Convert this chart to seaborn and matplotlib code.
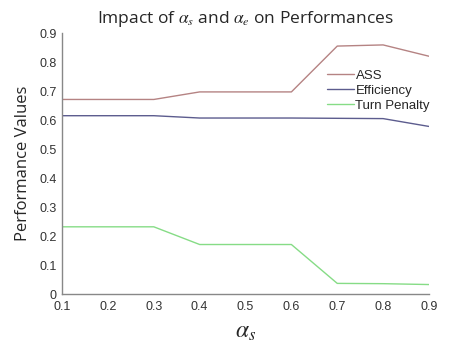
import matplotlib
matplotlib.use("Agg")
import matplotlib.pyplot as plt
import seaborn as sns
import pandas as pd

alpha_s = [0.1, 0.2, 0.3, 0.4, 0.5, 0.6, 0.7, 0.8, 0.9]
ass = [0.671, 0.671, 0.671, 0.697, 0.697, 0.697, 0.855, 0.859, 0.820]
efficiency = [0.615, 0.615, 0.615, 0.607, 0.607, 0.607, 0.606, 0.605, 0.578]
turn_penalty = [0.232, 0.232, 0.232, 0.171, 0.171, 0.171, 0.037, 0.036, 0.033]
series_names = ["ASS", "Efficiency", "Turn Penalty"]
colors = ["#b58383", "#5c5c8e", "#86dc86"]
x_ticks = [0.1, 0.2, 0.3, 0.4, 0.5, 0.6, 0.7, 0.8, 0.9]
y_ticks = [0, 0.1, 0.2, 0.3, 0.4, 0.5, 0.6, 0.7, 0.8, 0.9]

df = pd.DataFrame({"alpha": alpha_s * 3,
                   "value": ass + efficiency + turn_penalty,
                   "series": [s for s in series_names for _ in alpha_s]})

sns.set_style("white")
plt.rcParams['font.family'] = ['Open Sans', 'DejaVu Sans']
plt.rcParams['mathtext.fontset'] = 'stix'

fig = plt.figure(figsize=(4.74, 3.44), dpi=100)
ax = fig.add_axes([0.131, 0.145, 0.774, 0.759])
sns.lineplot(data=df, x="alpha", y="value", hue="series", palette=colors,
             hue_order=series_names, ax=ax, linewidth=1.0)

ax.set_xlim(0.1, 0.9)
ax.set_ylim(0, 0.9)
ax.set_xticks(x_ticks)
ax.set_xticklabels([f"{t:g}" for t in x_ticks], family='Liberation Sans', fontsize=9)
ax.set_yticks(y_ticks)
ax.set_yticklabels([f"{t:g}" for t in y_ticks], family='Liberation Sans', fontsize=9)
ax.tick_params(direction='in', length=3, width=0.8, colors='#888888',
               labelcolor='#333333')
ax.tick_params(axis='x', pad=5)
ax.tick_params(axis='y', pad=4)
for s in ['top', 'right']:
    ax.spines[s].set_visible(False)
for s in ['left', 'bottom']:
    ax.spines[s].set_color('#888888')
    ax.spines[s].set_linewidth(1.0)

ax.set_title(r"Impact of $\alpha_s$ and $\alpha_e$ on Performances", fontsize=12.5, pad=7)
ax.set_xlabel(r"$\alpha_s$", fontsize=17, labelpad=5)
ax.set_ylabel("Performance Values", fontsize=12, labelpad=6)

leg = ax.legend(loc='upper left', bbox_to_anchor=(0.69, 0.905), frameon=False,
                handlelength=2.0, handletextpad=0.15, labelspacing=0.2,
                prop={'family': 'Liberation Sans', 'size': 9.5})

fig.savefig("out.png", dpi=100)
